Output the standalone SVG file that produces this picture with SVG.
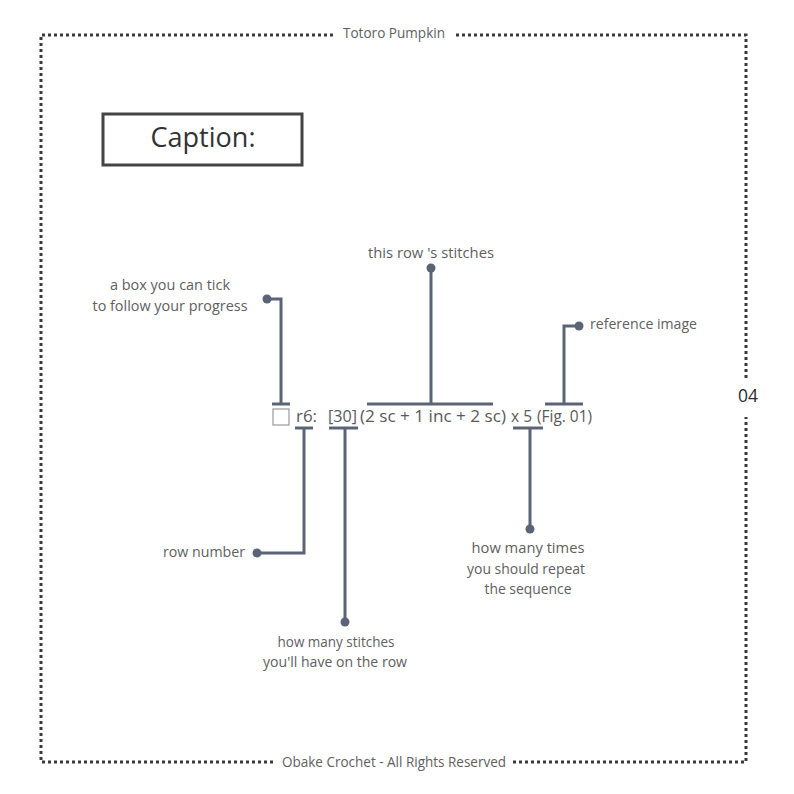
<svg xmlns="http://www.w3.org/2000/svg" width="794" height="794" viewBox="0 0 794 794">
<style>
.bd{fill:none;stroke:#3a3a3a;stroke-width:3;stroke-dasharray:3 3}
.t{font-family:"Open Sans","Noto Sans",sans-serif;fill:#606060;font-size:14px}
.row{font-family:"Open Sans","Noto Sans",sans-serif;fill:#5a5a5a;font-size:17px}
.c{fill:none;stroke:#5b6477;stroke-width:3}
.d{fill:#5b6477}
</style>
<rect width="794" height="794" fill="#fff"/>
<g id="frame">
<path class="bd" d="M333 35 H41 V762 H273"/>
<path class="bd" d="M513 762 H746 V417"/>
<path class="bd" d="M746 378 V35 H454"/>
<text class="t" x="394" y="38" text-anchor="middle" font-size="13" textLength="102" lengthAdjust="spacingAndGlyphs">Totoro Pumpkin</text>
<text class="t" x="394" y="767" text-anchor="middle" textLength="224" lengthAdjust="spacingAndGlyphs">Obake Crochet - All Rights Reserved</text>
<text x="748" y="402" text-anchor="middle" font-family="Open Sans,Noto Sans,sans-serif" font-size="18" fill="#2a2a2a" textLength="20" lengthAdjust="spacingAndGlyphs">04</text>
</g>
<g id="caption">
<rect x="103" y="114" width="199" height="51" fill="none" stroke="#444" stroke-width="3"/>
<text x="203" y="147" text-anchor="middle" font-family="Open Sans,Noto Sans,sans-serif" font-size="28" fill="#333" textLength="105" lengthAdjust="spacingAndGlyphs">Caption:</text>
</g>
<g id="row">
<rect x="273" y="409" width="16" height="16" fill="none" stroke="#999" stroke-width="1.2"/>
<text class="row" x="296" y="422" textLength="21" lengthAdjust="spacingAndGlyphs">r6:</text>
<text class="row" x="328" y="422" textLength="29" lengthAdjust="spacingAndGlyphs">[30]</text>
<text class="row" x="360" y="422" textLength="146" lengthAdjust="spacingAndGlyphs">(2 sc + 1 inc + 2 sc)</text>
<text class="row" x="511" y="422" textLength="21" lengthAdjust="spacingAndGlyphs">x 5</text>
<text class="row" x="537" y="422" textLength="55" lengthAdjust="spacingAndGlyphs">(Fig. 01)</text>
</g>
<g id="connectors">
<path class="c" d="M267 299 H281 V404 M272 404 H290"/>
<circle class="d" cx="267" cy="299" r="4.5"/>
<path class="c" d="M295 428 H313 M304 428 V553 H257"/>
<circle class="d" cx="257" cy="553" r="4.5"/>
<path class="c" d="M329 428 H358 M345 428 V622"/>
<circle class="d" cx="345" cy="622" r="4.5"/>
<path class="c" d="M367 404 H493 M431 404 V268"/>
<circle class="d" cx="431" cy="268" r="4.5"/>
<path class="c" d="M513 428 H543 M530 428 V529"/>
<circle class="d" cx="530" cy="529" r="4.5"/>
<path class="c" d="M545 404 H583 M564 404 V326 H579"/>
<circle class="d" cx="579" cy="326" r="4.5"/>
</g>
<g id="label-tick">
<text class="t" x="170" y="290" text-anchor="middle" textLength="120" lengthAdjust="spacingAndGlyphs">a box you can tick</text>
<text class="t" x="170" y="311" text-anchor="middle" textLength="155" lengthAdjust="spacingAndGlyphs">to follow your progress</text>
</g>
<g id="label-stitches">
<text class="t" x="431" y="258" text-anchor="middle" textLength="126" lengthAdjust="spacingAndGlyphs">this row 's stitches</text>
</g>
<g id="label-ref">
<text class="t" x="590" y="329" textLength="107" lengthAdjust="spacingAndGlyphs">reference image</text>
</g>
<g id="label-rownum">
<text class="t" x="245" y="557" text-anchor="end" textLength="82" lengthAdjust="spacingAndGlyphs">row number</text>
</g>
<g id="label-count">
<text class="t" x="336" y="647" text-anchor="middle" textLength="117" lengthAdjust="spacingAndGlyphs">how many stitches</text>
<text class="t" x="335" y="667" text-anchor="middle" textLength="144" lengthAdjust="spacingAndGlyphs">you'll have on the row</text>
</g>
<g id="label-repeat">
<text class="t" x="528" y="553" text-anchor="middle" textLength="113" lengthAdjust="spacingAndGlyphs">how many times</text>
<text class="t" x="526" y="574" text-anchor="middle" textLength="118" lengthAdjust="spacingAndGlyphs">you should repeat</text>
<text class="t" x="528" y="594" text-anchor="middle" textLength="87" lengthAdjust="spacingAndGlyphs">the sequence</text>
</g>
</svg>
